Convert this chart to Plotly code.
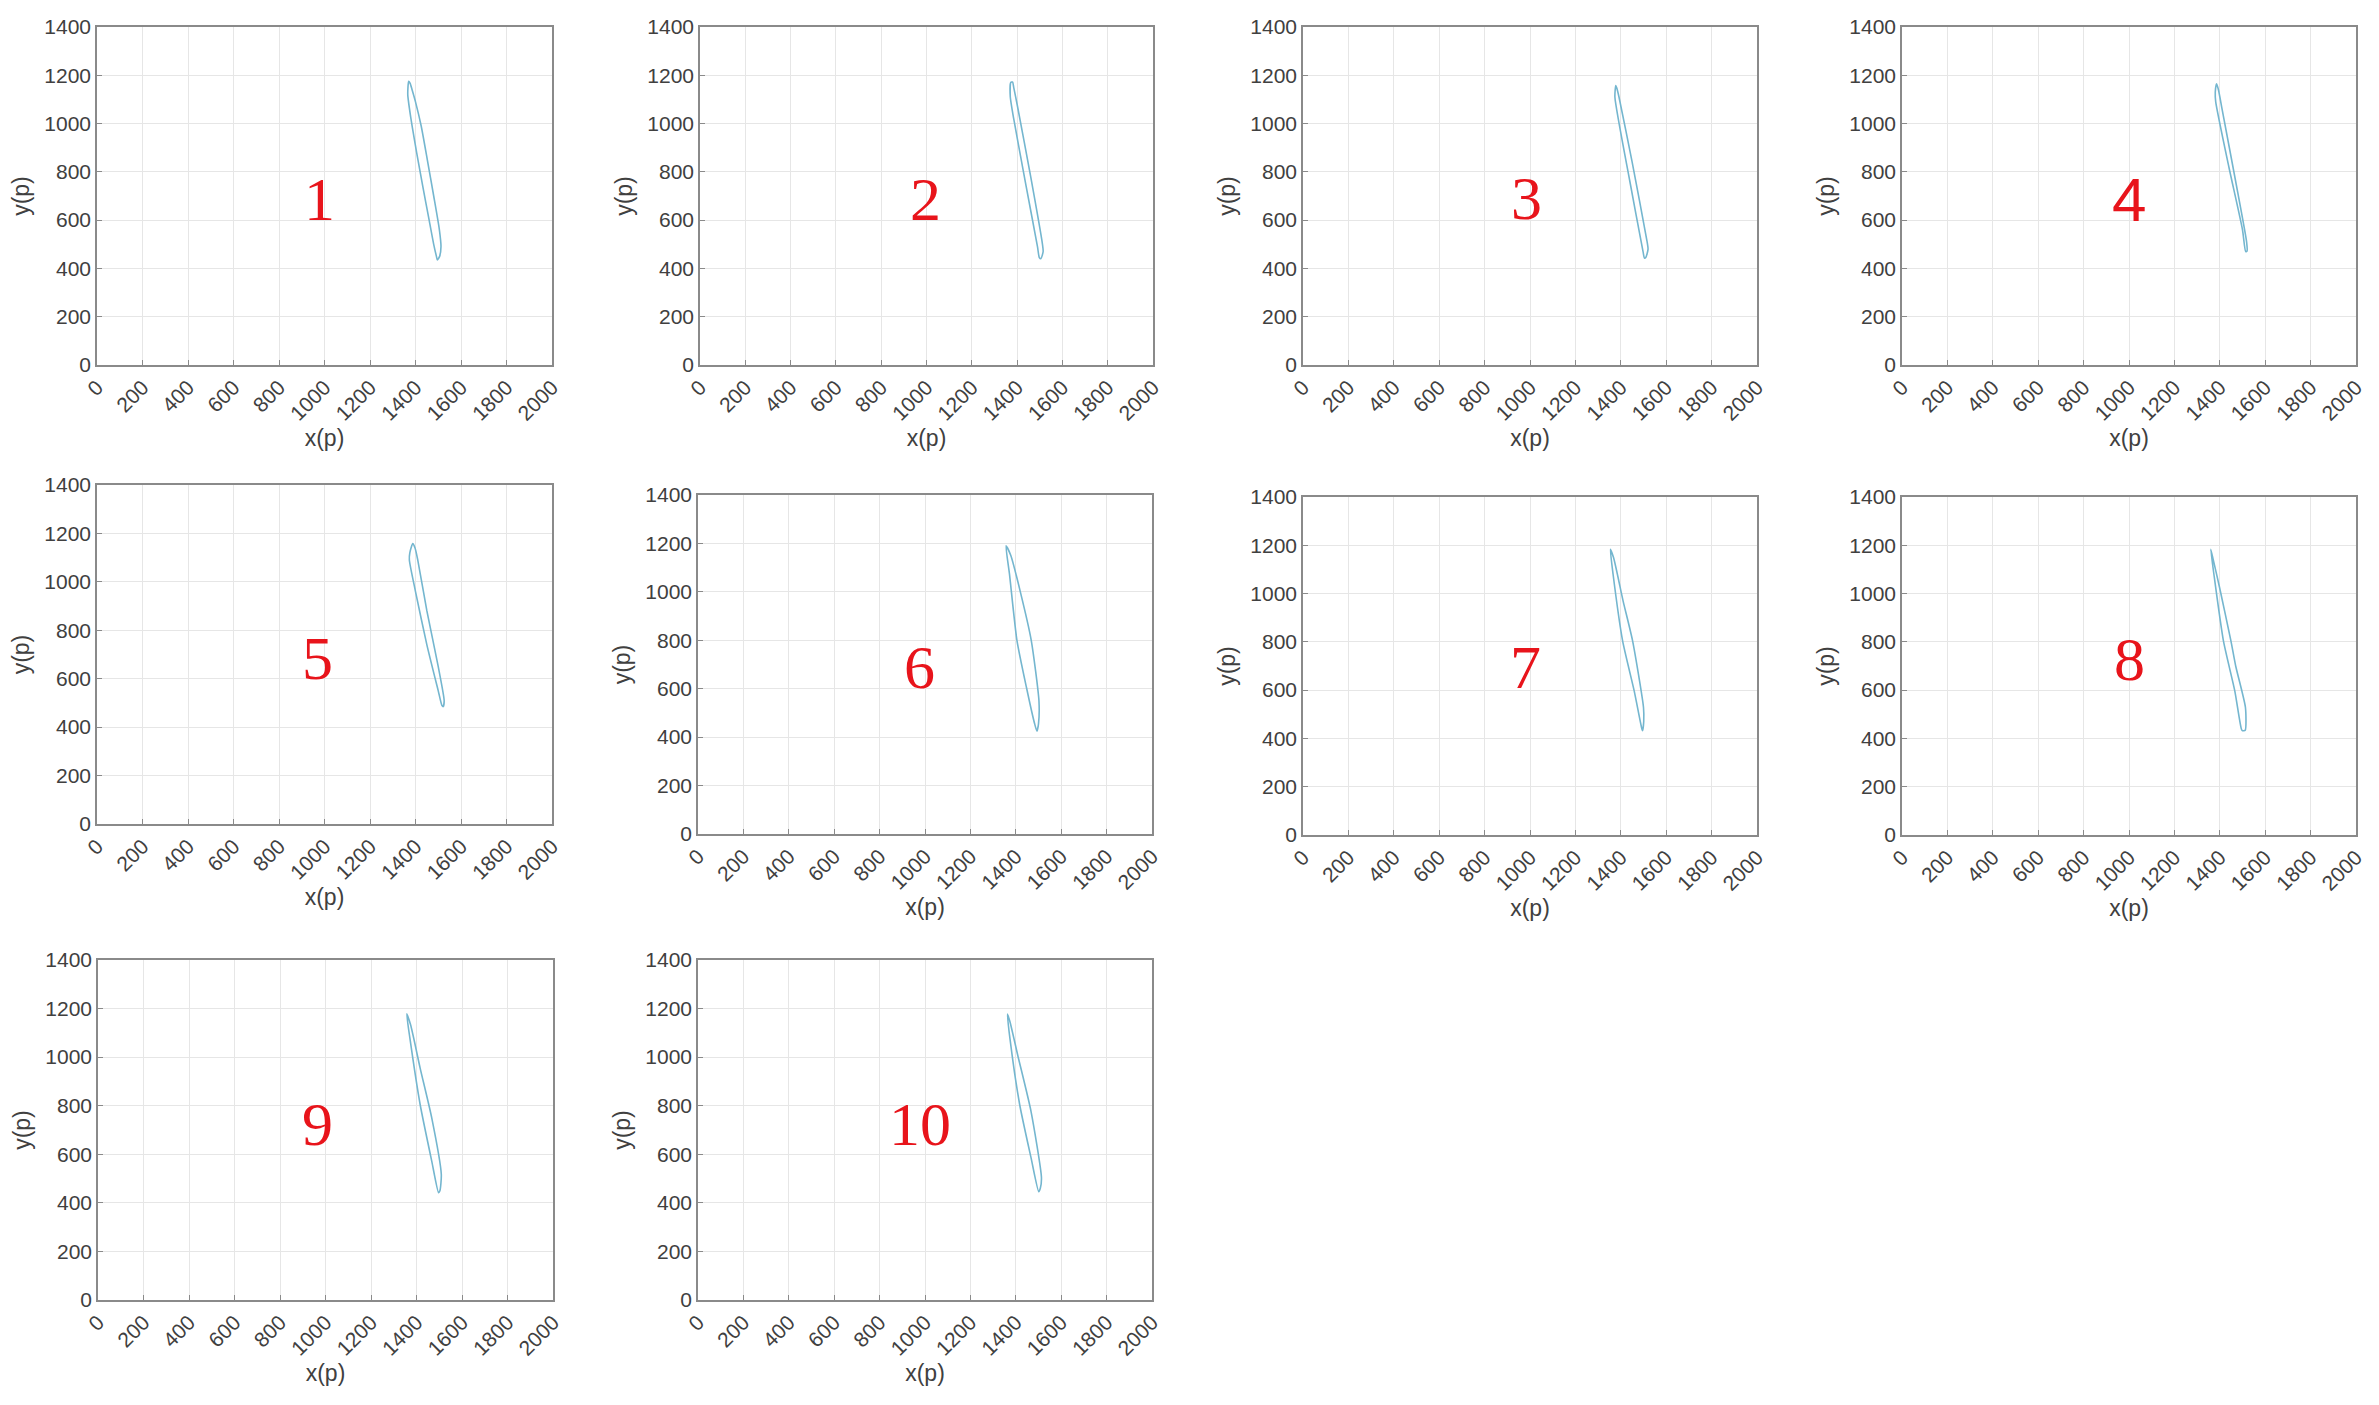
import plotly.graph_objects as go

# ---------------- data ----------------
X_TICKS = [0, 200, 400, 600, 800, 1000, 1200, 1400, 1600, 1800, 2000]
Y_TICKS = [0, 200, 400, 600, 800, 1000, 1200, 1400]
X_TICK_LABELS = [str(v) for v in X_TICKS]
Y_TICK_LABELS = [str(v) for v in Y_TICKS]

PANEL_LABELS = ["1", "2", "3", "4", "5", "6", "7", "8", "9", "10"]
LABEL_X = [977, 996, 986, 1000, 969, 974, 982, 1003, 965, 977]
LABEL_Y = [687, 687, 690, 687, 686, 688, 697, 728, 723, 723]

P1_X = [1370, 1366, 1380, 1405, 1432, 1460, 1480, 1492, 1496, 1506, 1512, 1505, 1480, 1452, 1425, 1400, 1385, 1376, 1370]
P1_Y = [1175, 1120, 1020, 880, 740, 600, 500, 450, 435, 450, 490, 560, 700, 850, 990, 1090, 1140, 1168, 1175]

P2_X = [1372, 1370, 1385, 1440, 1490, 1498, 1505, 1515, 1512, 1460, 1400, 1385, 1380, 1372]
P2_Y = [1170, 1110, 1020, 740, 490, 445, 440, 470, 500, 780, 1080, 1150, 1172, 1170]

P3_X = [1378, 1374, 1440, 1498, 1504, 1510, 1520, 1516, 1450, 1392, 1382, 1378]
P3_Y = [1158, 1110, 760, 470, 443, 445, 480, 510, 840, 1110, 1148, 1158]

P4_X = [1384, 1380, 1382, 1440, 1500, 1514, 1520, 1518, 1470, 1410, 1394, 1386, 1384]
P4_Y = [1160, 1130, 1090, 820, 560, 470, 472, 510, 760, 1060, 1140, 1165, 1160]

P5_X = [1388, 1375, 1373, 1400, 1450, 1500, 1516, 1522, 1526, 1500, 1450, 1410, 1398, 1388]
P5_Y = [1158, 1120, 1090, 960, 740, 550, 490, 485, 510, 650, 880, 1090, 1140, 1158]

P6_X = [1357, 1372, 1405, 1447, 1483, 1493, 1500, 1502, 1468, 1420, 1378, 1357]
P6_Y = [1190, 1075, 800, 605, 455, 425, 455, 550, 800, 1000, 1150, 1190]

P7_X = [1354, 1366, 1408, 1459, 1493, 1496, 1501, 1500, 1452, 1410, 1368, 1354]
P7_Y = [1183, 1080, 804, 597, 439, 432, 470, 528, 804, 970, 1149, 1183]

P8_X = [1360, 1374, 1416, 1466, 1495, 1500, 1512, 1513, 1470, 1449, 1399, 1369, 1360]
P8_Y = [1183, 1080, 804, 597, 439, 432, 434, 528, 700, 804, 1025, 1149, 1183]

P9_X = [1357, 1371, 1416, 1467, 1497, 1503, 1509, 1467, 1416, 1374, 1357]
P9_Y = [1178, 1078, 805, 572, 442, 450, 517, 750, 955, 1133, 1178]

P10_X = [1363, 1374, 1417, 1467, 1501, 1508, 1513, 1467, 1408, 1374, 1363]
P10_Y = [1177, 1078, 805, 586, 446, 460, 504, 777, 1010, 1147, 1177]

CURVES_X = [P1_X, P2_X, P3_X, P4_X, P5_X, P6_X, P7_X, P8_X, P9_X, P10_X]
CURVES_Y = [P1_Y, P2_Y, P3_Y, P4_Y, P5_Y, P6_Y, P7_Y, P8_Y, P9_Y, P10_Y]

# ---------------- layout (pixel boxes of each axes: left, right, top, bottom) ----------------
W, H = 2379, 1405
BOXES = [
    (89, 544, 19, 357), (692, 1145, 19, 357), (1295, 1749, 19, 357), (1894, 2348, 19, 357),
    (89, 544, 477, 816), (690, 1144, 487, 826), (1295, 1749, 489, 827), (1894, 2348, 489, 827),
    (90, 545, 952, 1292), (690, 1144, 952, 1292),
]

LINE_COLOR = "#74b6cf"
AXIS_COLOR = "#8a8a8a"
TEXT_COLOR = "#404040"
TICK_FONT = dict(family="Arial, Liberation Sans, sans-serif", size=21, color=TEXT_COLOR)
TITLE_FONT = dict(family="Arial, Liberation Sans, sans-serif", size=23, color=TEXT_COLOR)

fig = go.Figure()
layout = {}
annotations = []

for i in range(10):
    n = i + 1
    xa = "x" if n == 1 else f"x{n}"
    ya = "y" if n == 1 else f"y{n}"
    xkey = "xaxis" if n == 1 else f"xaxis{n}"
    ykey = "yaxis" if n == 1 else f"yaxis{n}"
    l, r, t, b = BOXES[i]

    fig.add_trace(go.Scatter(
        x=CURVES_X[i], y=CURVES_Y[i], mode="lines",
        line=dict(color=LINE_COLOR, width=1.6, shape="spline", smoothing=0.6),
        xaxis=xa, yaxis=ya, showlegend=False, hoverinfo="skip",
    ))

    common = dict(
        showgrid=True, gridcolor="#e6e6e6", gridwidth=1,
        showline=True, linecolor=AXIS_COLOR, linewidth=1.5, mirror=True,
        ticks="inside", ticklen=5, tickcolor=AXIS_COLOR, tickwidth=1,
        zeroline=False, tickfont=TICK_FONT, automargin=False,
    )
    layout[xkey] = dict(
        common, domain=[l / W, r / W], anchor=ya, range=[0, 2000],
        tickvals=X_TICKS, ticktext=X_TICK_LABELS, tickangle=-45,
        title=dict(text="x(p)", font=TITLE_FONT, standoff=6),
    )
    layout[ykey] = dict(
        common, domain=[1 - b / H, 1 - t / H], anchor=xa, range=[0, 1400],
        tickvals=Y_TICKS, ticktext=Y_TICK_LABELS,
        title=dict(text="y(p)", font=TITLE_FONT, standoff=8),
    )

    fam = "Arial, Liberation Sans, sans-serif" if PANEL_LABELS[i] == "4" else "Times New Roman, Liberation Serif, serif"
    annotations.append(dict(
        x=LABEL_X[i], y=LABEL_Y[i], xref=xa, yref=ya, text=PANEL_LABELS[i],
        showarrow=False, font=dict(family=fam, size=62, color="#e8141b"),
        xanchor="center", yanchor="middle",
    ))

fig.update_layout(
    width=W, height=H, margin=dict(l=0, r=0, t=0, b=0),
    paper_bgcolor="white", plot_bgcolor="white", showlegend=False,
    annotations=annotations, **layout,
)

fig.write_html("out.html")
